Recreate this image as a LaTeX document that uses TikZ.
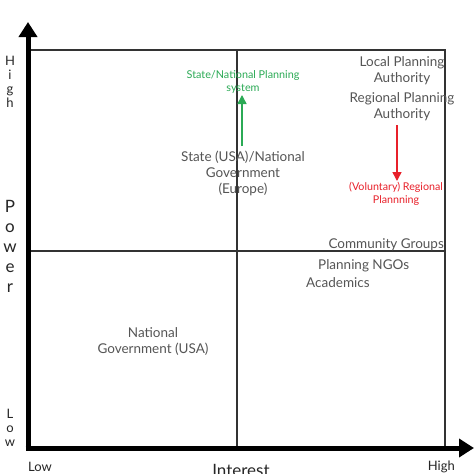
\documentclass[tikz,border=0pt]{standalone}
\usepackage{fontspec}
\setmainfont{Lato}
\usetikzlibrary{arrows.meta}
\definecolor{txtgray}{HTML}{555555}
\definecolor{lgreen}{HTML}{2BAA55}
\definecolor{lred}{HTML}{E8202A}
\definecolor{gridgray}{HTML}{333333}
\tikzset{
  axis/.style={line width=5pt, -{Triangle[length=15pt,width=18pt]}},
  gridline/.style={draw=gridgray, line width=1.4pt},
  lbl/.style={text=txtgray, font=\fontsize{13.5}{16}\selectfont, align=center, inner sep=0pt},
  axlbl/.style={text=black!85, font=\fontsize{13}{14}\selectfont, align=center, inner sep=0pt},
  biglbl/.style={text=black!85, font=\fontsize{17}{20}\selectfont, align=center, inner sep=0pt},
  greenlbl/.style={text=lgreen, font=\fontsize{10.8}{13}\selectfont, align=center, inner sep=0pt},
  redlbl/.style={text=lred, font=\fontsize{10.7}{13.5}\selectfont, align=center, inner sep=0pt},
  garrow/.style={draw=lgreen, line width=1.5pt, -{Triangle[length=9pt,width=9pt]}},
  rarrow/.style={draw=lred, line width=1.5pt, -{Triangle[length=9pt,width=9pt]}}
}
\begin{document}
\begin{tikzpicture}[x=1pt,y=-1pt]
\useasboundingbox (0,0) rectangle (474,474);
\fill[white] (0,0) rectangle (474,474);
% grid
\coordinate (o) at (28,448);
\coordinate (tl) at (28,50);
\coordinate (tr) at (445,50);
\coordinate (br) at (445,448);
\draw[gridline] (tl) -- (tr) -- (br);
\coordinate (vt) at (237,50);
\coordinate (vb) at (237,448);
\coordinate (hl) at (28,251);
\coordinate (hr) at (445,251);
\draw[gridline] (vt) -- (vb);
\draw[gridline] (hl) -- (hr);
% axes
\coordinate (ytip) at (28,22);
\coordinate (xtip) at (474,448);
\draw[axis] (28,450.5) -- (ytip);
\draw[axis] (25.5,448) -- (xtip);
% axis labels
\node[axlbl] (yhigh) at (10,82) {H\\i\\g\\h};
\node[biglbl] (ypower) at (10,246) {P\\o\\w\\e\\r};
\node[axlbl] (ylow) at (10,428) {L\\o\\w};
\node[axlbl, anchor=west] (xlow) at (28,467) {Low};
\node[axlbl, anchor=east] (xhigh) at (455,467) {High};
\node[biglbl] (xint) at (241,470) {Interest};
% texts
\node[lbl] (lpa) at (402,71) {Local Planning\\Authority};
\node[lbl] (rpa) at (402,107) {Regional Planning\\Authority};
\node[lbl] (stg) at (243,173) {State (USA)/National\\Government\\(Europe)};
\node[lbl, anchor=east] (cg) at (444,245) {Community Groups};
\node[lbl, anchor=west] (ngo) at (318,266) {Planning NGOs};
\node[lbl, anchor=west] (acad) at (306,283) {Academics};
\node[lbl] (natusa) at (153,342) {National\\Government (USA)};
\node[greenlbl] (gsys) at (243,82) {State/National Planning\\system};
\node[redlbl] (vrp) at (396,194) {(Voluntary) Regional\\Plannning};
% arrows
\coordinate (gs) at (242,146);
\coordinate (ge) at (242,95);
\draw[garrow] (gs) -- (ge);
\coordinate (rs) at (397,125);
\coordinate (re) at (397,181);
\draw[rarrow] (rs) -- (re);
\end{tikzpicture}
\end{document}
